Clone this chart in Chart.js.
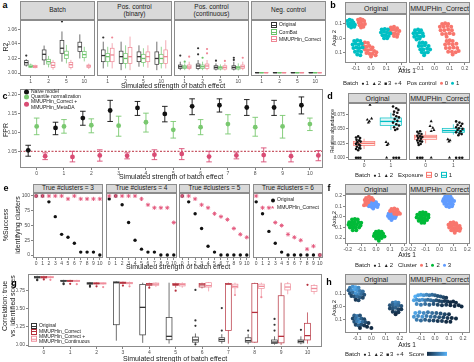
<!DOCTYPE html>
<html><head><meta charset="utf-8">
<script src="https://cdn.jsdelivr.net/npm/chart.js@4.4.1/dist/chart.umd.min.js"></script>
<style>
html,body{margin:0;padding:0;background:#fff;}
#fig{position:relative;width:474px;height:362px;overflow:hidden;font-family:'Liberation Sans',Arial,sans-serif;color:#1a1a1a;}
#fig canvas{position:absolute;}
.lab{position:absolute;white-space:nowrap;line-height:1.05;display:flex;align-items:center;}
.strip{position:absolute;box-sizing:border-box;background:#d9d9d9;border:1px solid #8c8c8c;display:flex;align-items:center;justify-content:center;text-align:center;line-height:1;color:#1a1a1a;}
.key{display:inline-block;flex:none;}
.sym{font-size:5px;margin:0 1px 0 3px;}
</style></head><body><div id="fig"></div>
<script>
// ---------------- data ----------------
// a: R2 per variable, boxes as [lo, q1, median, q3, hi]
const aStrength = ['1', '2', '5', '10'];
const aFacets = ['Batch', 'Pos. control<br>(binary)', 'Pos. control<br>(continuous)', 'Neg. control'];
const aMethods = ['Original', 'ComBat', 'MMUPHin_Correct'];
const aBatchOrig = [[.009,.011,.0143,.017,.019],[.011,.018,.0257,.0317,.0377],[.0156,.0271,.034,.0446,.057],[.020,.0294,.0359,.0423,.053]];
const aBatchCombat = [[.007,.0078,.0092,.011,.013],[.0078,.0124,.0156,.0189,.0235],[.0133,.020,.0248,.030,.0386],[.016,.0211,.0253,.0294,.036]];
const aBatchMmu = [[.0065,.0074,.0087,.0106,.0115],[.0046,.0078,.0106,.0143,.018],[.005,.0078,.0115,.0143,.018],[.0055,.0078,.0097,.011,.013]];
const aBinOrig = [[.0064,.0156,.024,.0317,.043],[.004,.0133,.0225,.030,.043],[.0087,.0156,.0225,.029,.038],[.004,.012,.020,.029,.043]];
const aBinCombat = [[.0087,.0156,.0225,.027,.036],[.0064,.0133,.020,.027,.038],[.0087,.0147,.020,.0257,.034],[.0064,.0133,.020,.0257,.036]];
const aBinMmu = [[.0064,.0156,.0248,.034,.041],[.004,.0133,.0225,.035,.050],[.0073,.0156,.0225,.029,.038],[.0064,.0133,.0225,.0317,.045]];
const aContOrig = [[.004,.0064,.0087,.011,.0156],[.004,.0064,.0097,.0124,.0179],[.0036,.0055,.0078,.010,.0133],[.0036,.0055,.0078,.010,.0156]];
const aContCombat = [[.004,.0064,.0083,.010,.0133],[.004,.0064,.0087,.011,.0156],[.0036,.0055,.0073,.0087,.0119],[.0036,.0055,.0073,.0092,.0133]];
const aContMmu = [[.004,.0064,.0083,.011,.0156],[.004,.0064,.0097,.0124,.0179],[.0036,.0055,.0078,.010,.0133],[.004,.0064,.0087,.011,.0156]];
const aNegOrig = [[.0001,.0003,.0005,.0007,.001],[.0001,.0003,.0005,.0007,.001],[.0001,.0003,.0005,.0007,.001],[.0001,.0003,.0005,.0007,.001]];
const aNegCombat = [[.0001,.0003,.0004,.0006,.0009],[.0001,.0003,.0004,.0006,.0009],[.0001,.0003,.0004,.0006,.0009],[.0001,.0003,.0004,.0006,.0009]];
const aNegMmu = [[.0001,.0003,.0004,.0006,.0009],[.0001,.0003,.0004,.0006,.0009],[.0001,.0003,.0004,.0006,.0009],[.0001,.0003,.0004,.0006,.0009]];
// outliers: [category 1..4, method index, value]
const aBatchOut = [[1,0,.024],[3,0,.0708]];
const aBinOut = [[1,0,.0487],[1,2,.0487]];
const aContOut = [[1,0,.024],[2,0,.034],[2,0,.0257],[3,0,.017],[4,0,.021],[4,0,.018],[1,1,.0156],[2,1,.021],[1,2,.0225],[2,2,.033],[2,2,.027],[3,2,.0166],[4,2,.021]];
const aNegOut = [];

// c: FPR with intervals
const cStrength = [0,1,2,3,4,5,6,7,8,9,10];
const cMethods = ['Naive model', 'Quantile normalization', 'MMUPHin_Correct +<br>MMUPHin_MetaDA'];
const cNaive = [0.0527,0.112,0.138,0.158,0.165,0.149,0.169,0.172,0.166,0.166,0.172];
const cNaiveLo = [0.037,0.094,0.119,0.129,0.145,0.128,0.147,0.154,0.145,0.145,0.149];
const cNaiveHi = [0.066,0.127,0.156,0.185,0.182,0.169,0.189,0.189,0.187,0.185,0.194];
const cQuant = [0.116,0.116,0.119,0.118,0.127,0.107,0.114,0.122,0.114,0.116,0.122];
const cQuantLo = [0.094,0.098,0.099,0.090,0.101,0.085,0.094,0.096,0.090,0.085,0.105];
const cQuantHi = [0.138,0.134,0.136,0.143,0.151,0.129,0.134,0.147,0.140,0.145,0.138];
const cMeta = [0.037,0.035,0.039,0.038,0.041,0.043,0.036,0.039,0.040,0.037,0.039];
const cMetaLo = [0.028,0.022,0.024,0.030,0.028,0.028,0.022,0.030,0.022,0.022,0.025];
const cMetaHi = [0.046,0.050,0.054,0.046,0.054,0.057,0.050,0.048,0.059,0.050,0.052];
const cNominal = 0.05;

// e: % success identifying clusters
const eClusters = [3, 4, 5, 6];
const eStrength = [0,1,2,3,4,5,6,7,8,9,10];
const eOriginal = [[100,100,90,65,35,30,20,5,5,5,0],[95,100,85,55,25,10,5,5,0,0,0],[100,90,70,45,15,5,0,0,0,0,0],[90,70,40,20,5,0,0,0,0,0,0]];
const eCorrected = [[100,100,100,100,100,95,100,95,95,95,95],[100,100,100,100,100,95,85,80,80,80,55],[100,100,95,85,80,70,65,60,45,35,30],[100,80,80,55,50,35,30,25,10,15,0]];

// g: correlation true vs identified scores, boxes [lo, q1, median, q3, hi]
const gStrength = [0,1,2,3,4,5,6,7,8,9,10];
const gOrig = [[.91,.925,.935,.945,.955],[.865,.875,.885,.893,.90],[.83,.84,.85,.86,.87],[.06,.28,.86,.872,.88],[.03,.14,.52,.837,.86],[.02,.073,.12,.38,.86],[.02,.04,.07,.11,.16],[.02,.05,.075,.10,.15],[.01,.04,.06,.10,.15],[.005,.02,.04,.07,.12],[.01,.03,.05,.07,.12]];
const gCorrect = [[.915,.925,.935,.945,.955],[.87,.877,.885,.893,.90],[.835,.842,.85,.858,.865],[.84,.85,.86,.868,.875],[.80,.82,.84,.85,.86],[.79,.82,.835,.85,.86],[.78,.80,.83,.85,.86],[.02,.20,.84,.85,.86],[.03,.04,.45,.85,.86],[.0,.03,.12,.68,.86],[.02,.07,.13,.30,.45]];
const gContinuous = [[.92,.928,.935,.945,.955],[.87,.877,.885,.893,.90],[.835,.842,.85,.858,.865],[.83,.845,.855,.865,.875],[.80,.825,.84,.855,.865],[.79,.815,.835,.85,.865],[.74,.80,.82,.86,.87],[.70,.79,.81,.84,.86],[.66,.78,.81,.84,.86],[.70,.76,.80,.845,.87],[.70,.74,.78,.82,.84]];
// outliers [strength, method index, value]
const gOut = [[0,0,.895],[0,0,.90],[1,0,.84],[1,0,.85],[2,0,.805],[2,0,.82],[6,0,.76],[6,0,.34],[6,0,.265],[6,0,.01],[7,0,.51],[7,0,.20],[8,0,.20],[9,0,.36],[9,0,.28],[9,0,.20],[10,0,.21],
  [0,1,.905],[1,1,.845],[2,1,.81],[3,1,.82],[4,1,.79],[5,1,.75],[10,1,.83],[0,2,.90],[1,2,.84],[2,2,.80],[3,2,.81],[7,2,.69],[8,2,.66]];

// b: ordination, points [axis1, axis2]
const bOrigTeal = [[-0.155,0.12],[-0.14,0.13],[-0.125,0.125],[-0.15,0.10],[-0.135,0.105],[-0.115,0.11],[-0.145,0.085],[-0.125,0.09],[-0.105,0.095],[-0.13,0.075],[-0.11,0.08],
  [0.07,0.06],[0.09,0.065],[0.11,0.06],[0.065,0.04],[0.085,0.045],[0.105,0.04],[0.125,0.035],[0.075,0.02],[0.095,0.02],[0.115,0.015],[0.085,0.0],[0.105,0.0],
  [-0.11,-0.02],[-0.09,-0.015],[-0.07,-0.02],[-0.12,-0.045],[-0.1,-0.04],[-0.08,-0.045],[-0.06,-0.04],[-0.115,-0.07],[-0.095,-0.065],[-0.075,-0.07],[-0.055,-0.065],[-0.105,-0.095],[-0.085,-0.09],[-0.065,-0.095],[-0.09,-0.115],[-0.07,-0.12]];
const bOrigSalmon = [[-0.085,0.13],[-0.07,0.135],[-0.055,0.13],[-0.08,0.11],[-0.065,0.115],[-0.045,0.12],[-0.075,0.09],[-0.06,0.095],[-0.04,0.10],[-0.065,0.075],[-0.05,0.08],
  [0.13,0.075],[0.15,0.08],[0.17,0.07],[0.125,0.055],[0.145,0.06],[0.165,0.055],[0.185,0.05],[0.135,0.035],[0.155,0.035],[0.175,0.03],[0.15,0.015],[0.17,0.01],
  [-0.04,-0.03],[-0.02,-0.035],[-0.05,-0.055],[-0.03,-0.06],[-0.01,-0.055],[0.01,-0.065],[-0.04,-0.08],[-0.02,-0.085],[0.0,-0.08],[0.02,-0.09],[0.035,-0.1],[-0.03,-0.105],[-0.01,-0.11],[0.01,-0.11],[0.03,-0.12],[0.0,-0.13]];
const bCorrTeal = [[-0.13,0.055],[-0.11,0.06],[-0.09,0.055],[-0.14,0.035],[-0.12,0.035],[-0.1,0.04],[-0.08,0.035],[-0.135,0.01],[-0.115,0.015],[-0.095,0.01],[-0.075,0.015],[-0.12,-0.01],[-0.1,-0.005],
  [-0.1,-0.035],[-0.08,-0.03],[-0.06,-0.035],[-0.105,-0.055],[-0.085,-0.055],[-0.065,-0.05],[-0.04,-0.055],[-0.095,-0.08],[-0.075,-0.08],[-0.05,-0.075],[-0.03,-0.08],[-0.085,-0.1],[-0.065,-0.105],[-0.045,-0.1],[-0.07,-0.12]];
const bCorrSalmon = [[0.05,0.1],[0.07,0.105],[0.09,0.1],[0.035,0.08],[0.06,0.08],[0.085,0.085],[0.11,0.08],[0.04,0.055],[0.065,0.055],[0.09,0.06],[0.115,0.055],[0.05,0.03],[0.075,0.03],[0.1,0.035],[0.125,0.03],[0.08,0.01],
  [0.08,-0.02],[0.1,-0.015],[0.12,-0.02],[0.07,-0.045],[0.095,-0.04],[0.12,-0.045],[0.145,-0.04],[0.075,-0.07],[0.1,-0.07],[0.125,-0.065],[0.15,-0.07],[0.09,-0.095],[0.115,-0.095],[0.14,-0.1],[0.16,-0.09],[0.12,-0.115]];

// d: relative abundance by exposure, boxes and jittered samples [exposure + jitter, abundance]
const dExposure = ['0', '1'];
const dOrigBox = [[0.015,0.021,0.025,0.028,0.033],[0.048,0.056,0.063,0.069,0.078]];
const dCorrBox = [[0.025,0.032,0.036,0.039,0.046],[0.040,0.044,0.047,0.051,0.058]];
const dOrigBatch1 = [[-0.3,0.035],[-0.22,0.037],[-0.15,0.034],[-0.28,0.031],[-0.18,0.03],[-0.25,0.027],[-0.13,0.028],[-0.3,0.024],[-0.2,0.023],[-0.15,0.021],[-0.27,0.019],[-0.18,0.017],[-0.3,0.015],[-0.22,0.013],[-0.14,0.016],[-0.3,0],[-0.22,0],[-0.14,0],
  [1.08,0.089],[1.2,0.086],[1.28,0.083],[1.12,0.08],[1.24,0.078],[1.1,0.075],[1.2,0.072],[1.3,0.07],[1.14,0.067],[1.24,0.064],[1.08,0.061],[1.2,0.058],[1.3,0.056],[1.12,0.053],[1.24,0.05],[1.16,0.048],[1.1,0],[1.2,0],[1.3,0]];
const dOrigBatch2 = [[0.12,0.066],[0.2,0.063],[0.28,0.068],[0.16,0.061],[0.22,0.092],[0.82,0.027],[0.9,0.024],[0.86,0.022],[0.84,0.0]];
const dCorrBatch1 = [[-0.3,0.045],[-0.2,0.046],[-0.25,0.042],[-0.15,0.041],[-0.3,0.038],[-0.2,0.037],[-0.12,0.036],[-0.27,0.034],[-0.17,0.033],[-0.3,0.03],[-0.2,0.029],[-0.13,0.028],[-0.27,0.026],[-0.18,0.024],[-0.25,0.022],[-0.3,0],[-0.2,0],[-0.12,0],
  [1.1,0.063],[1.22,0.061],[1.32,0.059],[1.15,0.057],[1.27,0.055],[1.1,0.053],[1.2,0.051],[1.33,0.05],[1.15,0.048],[1.26,0.046],[1.1,0.044],[1.22,0.042],[1.3,0.041],[1.18,0.039],[1.1,0],[1.22,0],[1.32,0]];
const dCorrBatch2 = [[0.2,0.063],[0.16,0.055],[0.26,0.052],[0.3,0.048],[0.2,0.046],[0.8,0.032],[0.88,0.03],[0.84,0.028],[0.2,0.0],[0.86,0.0]];

// f: ordination coloured by cluster
const fOrigC1 = [[-0.07,0.18],[-0.05,0.19],[-0.03,0.18],[-0.08,0.16],[-0.06,0.16],[-0.04,0.165],[-0.02,0.16],[-0.075,0.135],[-0.055,0.14],[-0.085,0.11],[-0.07,0.115],
  [0.11,0.075],[0.13,0.08],[0.15,0.07],[0.1,0.055],[0.12,0.055],[0.14,0.05],[0.16,0.045],[0.13,0.03],[0.15,0.025],[0.17,0.03]];
const fOrigC2 = [[-0.17,-0.025],[-0.15,-0.02],[-0.13,-0.025],[-0.19,-0.05],[-0.17,-0.05],[-0.15,-0.045],[-0.125,-0.05],[-0.105,-0.055],[-0.195,-0.075],[-0.175,-0.075],[-0.155,-0.07],[-0.135,-0.075],[-0.11,-0.08],[-0.185,-0.1],[-0.165,-0.1],[-0.145,-0.1],[-0.12,-0.1],[-0.165,-0.125],[-0.14,-0.125],
  [0.0,-0.14],[0.02,-0.135],[0.04,-0.14],[-0.01,-0.16],[0.01,-0.16],[0.03,-0.155],[0.05,-0.16],[-0.015,-0.18],[0.005,-0.185],[0.025,-0.18],[0.045,-0.18],[0.06,-0.185],[0.0,-0.205],[0.02,-0.205],[0.04,-0.2],[0.02,-0.225]];
const fOrigC3 = [[-0.035,0.14],[-0.015,0.145],[0.0,0.14],[-0.045,0.12],[-0.025,0.12],[-0.005,0.12],[0.015,0.115],[-0.05,0.1],[-0.03,0.095],[-0.01,0.1],[0.01,0.095],[-0.02,0.08],
  [0.09,0.03],[0.105,0.035],[0.12,0.025],[0.085,0.01],[0.1,0.01],[0.12,0.005],[0.14,0.005],[0.095,-0.01],[0.115,-0.015],[0.135,-0.01],[0.11,-0.03]];
const fCorrC1 = [[0.08,-0.055],[0.1,-0.05],[0.12,-0.06],[0.065,-0.075],[0.085,-0.08],[0.105,-0.075],[0.125,-0.08],[0.145,-0.085],[0.07,-0.1],[0.09,-0.1],[0.11,-0.105],[0.13,-0.1],[0.15,-0.11],[0.085,-0.125],[0.105,-0.13],[0.125,-0.125],[0.145,-0.13],[0.11,-0.15]];
const fCorrC2 = [[-0.14,0.04],[-0.12,0.045],[-0.1,0.04],[-0.16,0.02],[-0.14,0.015],[-0.12,0.02],[-0.1,0.015],[-0.08,0.02],[-0.165,-0.005],[-0.145,-0.01],[-0.125,-0.005],[-0.105,-0.01],[-0.08,-0.005],[-0.15,-0.035],[-0.13,-0.03],[-0.11,-0.035],[-0.09,-0.03],[-0.13,-0.055],[-0.11,-0.055]];
const fCorrC3 = [[0.04,0.19],[0.06,0.195],[0.08,0.19],[0.03,0.17],[0.05,0.17],[0.07,0.175],[0.09,0.17],[0.025,0.15],[0.045,0.145],[0.065,0.15],[0.085,0.145],[0.105,0.15],[0.035,0.125],[0.055,0.12],[0.075,0.125],[0.095,0.12],[0.05,0.1],[0.07,0.095],[0.09,0.1]];

// h: ordination coloured by continuous score, points [axis1, axis2, score]
const hOrig = [[-0.15,0.15,0.6],[-0.13,0.16,0.8],[-0.11,0.155,0.9],[-0.09,0.15,0.7],[-0.16,0.13,0.4],[-0.14,0.13,0.7],[-0.12,0.135,0.9],[-0.1,0.13,0.8],[-0.08,0.125,0.6],[-0.06,0.12,0.5],[-0.15,0.105,0.3],[-0.13,0.11,0.5],[-0.11,0.105,0.8],[-0.09,0.1,0.7],[-0.07,0.1,0.5],[-0.05,0.095,0.3],[-0.14,0.085,0.2],[-0.12,0.08,0.3],[-0.1,0.08,0.5],[-0.08,0.075,0.4],[-0.06,0.07,0.2],[-0.11,0.055,0.1],[-0.09,0.05,0.2],
  [0.15,0.03,0.5],[0.17,0.035,0.7],[0.19,0.03,0.6],[0.13,0.01,0.3],[0.15,0.01,0.4],[0.17,0.015,0.6],[0.19,0.01,0.5],[0.21,0.005,0.3],[0.13,-0.015,0.2],[0.15,-0.015,0.3],[0.17,-0.01,0.4],[0.19,-0.02,0.2],[0.21,-0.02,0.1],[0.15,-0.04,0.1],[0.17,-0.045,0.2],[0.19,-0.045,0.1],[0.17,-0.06,0.0],
  [-0.12,-0.07,0.4],[-0.1,-0.075,0.6],[-0.08,-0.07,0.3],[-0.13,-0.095,0.2],[-0.11,-0.095,0.5],[-0.09,-0.1,0.7],[-0.07,-0.095,0.4],[-0.05,-0.1,0.2],[-0.12,-0.12,0.3],[-0.1,-0.12,0.6],[-0.08,-0.125,0.8],[-0.06,-0.12,0.5],[-0.04,-0.125,0.3],[-0.02,-0.13,0.1],[-0.11,-0.145,0.2],[-0.09,-0.15,0.4],[-0.07,-0.145,0.3],[-0.05,-0.15,0.1],[-0.08,-0.17,0.0],[-0.03,-0.16,0.0],[0.0,-0.17,0.0]];
const hCorr = [[-0.14,0.08,1.0],[-0.12,0.09,0.9],[-0.1,0.095,0.9],[-0.08,0.09,0.8],[-0.06,0.095,0.7],[-0.04,0.09,0.6],[-0.02,0.095,0.5],[0.0,0.09,0.4],[0.02,0.085,0.3],[0.04,0.08,0.3],[0.06,0.075,0.2],[0.08,0.07,0.1],
  [-0.15,0.05,0.9],[-0.13,0.055,0.8],[-0.11,0.05,0.7],[-0.09,0.055,0.8],[-0.07,0.05,0.6],[-0.05,0.055,0.5],[-0.03,0.05,0.5],[-0.01,0.045,0.4],[0.01,0.05,0.3],[0.03,0.045,0.2],[0.05,0.04,0.2],[0.07,0.045,0.1],[0.09,0.04,0.1],[0.11,0.035,0.0],[0.13,0.04,0.0],[0.15,0.03,0.0],
  [-0.13,0.02,0.7],[-0.1,0.015,0.6],[-0.07,0.02,0.5],[-0.04,0.015,0.4],[-0.01,0.02,0.3],[0.02,0.015,0.2],[0.05,0.01,0.1],[0.08,0.015,0.1],[0.11,0.01,0.0],[0.14,0.005,0.0],[0.17,0.01,0.0],[0.19,0.0,0.0],
  [-0.14,-0.05,0.9],[-0.11,-0.045,0.8],[-0.08,-0.05,0.7],[-0.05,-0.045,0.6],[-0.02,-0.05,0.5],[0.01,-0.05,0.4],[0.04,-0.055,0.3],[0.07,-0.06,0.2],[0.1,-0.06,0.1],
  [-0.15,-0.08,0.8],[-0.12,-0.075,0.7],[-0.09,-0.08,0.8],[-0.06,-0.075,0.6],[-0.03,-0.08,0.5],[0.0,-0.08,0.4],[0.03,-0.085,0.3],[0.06,-0.085,0.2],[0.09,-0.09,0.1],[0.12,-0.09,0.0],[0.15,-0.095,0.0],
  [-0.13,-0.105,0.6],[-0.1,-0.11,0.5],[-0.07,-0.105,0.4],[-0.04,-0.11,0.3],[-0.01,-0.11,0.2],[0.02,-0.115,0.1],[0.05,-0.115,0.1],[0.08,-0.12,0.0],[0.11,-0.12,0.0]];

// ---------------- styles ----------------
const aCol = ['#333333', '#6cc36a', '#ef8795'];
const cCol = ['#111111', '#79c86f', '#d94c74'];
const eCol = ['#111111', '#e3557a'];
const gCol = ['#333333', '#b52f3c', '#ef8d9b'];
const hue2 = ['#F8766D', '#00BFC4'];
const hue3 = ['#F8766D', '#00BA38', '#619CFF'];
const DODGE = [-0.25, 0, 0.25];
const PAD = 8;
const fig = document.getElementById('fig');

Chart.defaults.font.family = "'Liberation Sans', Arial, sans-serif";
Chart.defaults.font.size = 5;
Chart.defaults.color = '#4d4d4d';

function axis(s, dir, size, show) {
  return {
    type: 'linear', min: s.min, max: s.max, display: show,
    afterBuildTicks: sc => { sc.ticks = s.ticks.map(v => ({ value: v })); },
    afterFit: sc => { if (dir === 'x') sc.height = size; else sc.width = size; },
    grid: { drawOnChartArea: false, drawTicks: true, tickLength: 2, color: '#333', lineWidth: 0.6 },
    border: { display: false },
    ticks: { callback: (v, i) => s.labels[i], padding: 1, autoSkip: false, maxRotation: 0, font: { size: s.fs || 5 }, color: '#4d4d4d' }
  };
}

function framePlugin() {
  return { id: 'frame', afterDraw(ch) {
    const a = ch.chartArea, c = ch.ctx;
    c.save(); c.strokeStyle = '#8c8c8c'; c.lineWidth = 1;
    c.strokeRect(Math.round(a.left) + 0.5, Math.round(a.top) + 0.5, Math.round(a.right - a.left) - 1, Math.round(a.bottom - a.top) - 1);
    c.restore();
  } };
}

function boxPlugin(items) {
  return { id: 'boxes', beforeDatasetsDraw(ch) {
    const { ctx, scales: { x, y } } = ch;
    items.forEach(it => {
      const [lo, q1, md, q3, hi] = it.s;
      const xc = x.getPixelForValue(it.x);
      const hw = Math.abs(x.getPixelForValue(it.x + it.w / 2) - xc);
      const top = y.getPixelForValue(q3), bot = y.getPixelForValue(q1);
      ctx.save(); ctx.strokeStyle = it.color; ctx.lineWidth = 0.7;
      ctx.beginPath();
      ctx.moveTo(xc, y.getPixelForValue(hi)); ctx.lineTo(xc, top);
      ctx.moveTo(xc, bot); ctx.lineTo(xc, y.getPixelForValue(lo));
      ctx.stroke();
      if (it.fill) { ctx.fillStyle = it.fill; ctx.fillRect(xc - hw, top, 2 * hw, bot - top); }
      ctx.strokeRect(xc - hw, top, 2 * hw, bot - top);
      ctx.lineWidth = 1.3;
      ctx.beginPath(); ctx.moveTo(xc - hw, y.getPixelForValue(md)); ctx.lineTo(xc + hw, y.getPixelForValue(md)); ctx.stroke();
      ctx.restore();
    });
  } };
}

function errPlugin(items) {
  return { id: 'errbars', beforeDatasetsDraw(ch) {
    const { ctx, scales: { x, y } } = ch;
    items.forEach(it => {
      const xc = x.getPixelForValue(it.x), cw = 2.8;
      const yl = y.getPixelForValue(it.lo), yh = y.getPixelForValue(it.hi);
      ctx.save(); ctx.strokeStyle = it.color; ctx.lineWidth = 0.9;
      ctx.beginPath();
      ctx.moveTo(xc, yl); ctx.lineTo(xc, yh);
      ctx.moveTo(xc - cw, yl); ctx.lineTo(xc + cw, yl);
      ctx.moveTo(xc - cw, yh); ctx.lineTo(xc + cw, yh);
      ctx.stroke(); ctx.restore();
    });
  } };
}

function hlinePlugin(v) {
  return { id: 'hline', beforeDatasetsDraw(ch) {
    const { ctx, chartArea: a, scales: { y } } = ch;
    const py = y.getPixelForValue(v);
    ctx.save(); ctx.strokeStyle = '#b2182b'; ctx.lineWidth = 0.9; ctx.setLineDash([2, 1.5]);
    ctx.beginPath(); ctx.moveTo(a.left, py); ctx.lineTo(a.right, py); ctx.stroke(); ctx.restore();
  } };
}

function facet(area, cfg) {
  const [l, t, r, b] = area;
  const yW = cfg.showY ? cfg.yW : 0;
  const xH = cfg.xH || 8;
  const w = r - l + yW + 2 * PAD, h = b - t + xH + PAD;
  const cv = document.createElement('canvas');
  cv.width = w; cv.height = h;
  cv.style.left = (l - yW - PAD) + 'px'; cv.style.top = (t - PAD) + 'px';
  cv.style.width = w + 'px'; cv.style.height = h + 'px';
  fig.appendChild(cv);
  const extra = [];
  if (cfg.hline !== undefined) extra.push(hlinePlugin(cfg.hline));
  if (cfg.boxes) extra.push(boxPlugin(cfg.boxes));
  if (cfg.errbars) extra.push(errPlugin(cfg.errbars));
  extra.push(framePlugin());
  return new Chart(cv, {
    type: 'scatter',
    data: { datasets: cfg.datasets || [] },
    options: {
      responsive: false, animation: false, devicePixelRatio: 1,
      layout: { padding: { top: PAD, right: PAD, bottom: 0, left: PAD } },
      scales: { x: axis(cfg.x, 'x', xH, true), y: axis(cfg.y, 'y', yW, !!cfg.showY) },
      plugins: { legend: { display: false }, tooltip: { enabled: false } }
    },
    plugins: extra
  });
}

function pts(arr, color, r, style) {
  return { data: arr.map(p => ({ x: p[0], y: p[1] })), backgroundColor: color, borderColor: color,
    pointRadius: r || 2, borderWidth: style === 'star' ? 0.9 : 0, pointStyle: style || 'circle' };
}

function lab(html, x, y, o = {}) {
  const d = document.createElement('div');
  d.className = 'lab';
  d.innerHTML = html;
  const ax = o.a === 'l' ? '0' : o.a === 'r' ? '-100%' : '-50%';
  d.style.cssText = `left:${x}px;top:${y}px;font-size:${o.fs || 6}px;transform:translate(${ax},-50%)${o.rot ? ' rotate(-90deg)' : ''};` + (o.css || '');
  fig.appendChild(d);
}

function strip(l, t, r, b, html, fs) {
  const d = document.createElement('div');
  d.className = 'strip';
  d.innerHTML = html;
  d.style.cssText = `left:${l}px;top:${t}px;width:${r - l}px;height:${b - t}px;font-size:${fs}px;`;
  fig.appendChild(d);
}

const boxKey = c => `<span class="key" style="width:4px;height:4px;border:1px solid ${c};background:linear-gradient(${c},${c}) center/100% 1px no-repeat;margin-right:2px"></span>`;
const dotKey = (c, s) => `<span class="key" style="width:${s || 4}px;height:${s || 4}px;border-radius:50%;background:${c};margin-right:2px"></span>`;

// ---------------- a ----------------
const aX = { min: 0.4, max: 4.6, ticks: [1, 2, 3, 4], labels: aStrength };
const aY = { min: -0.004, max: 0.0727, ticks: [0, 0.02, 0.04, 0.06], labels: ['0.00', '0.02', '0.04', '0.06'] };
const aAreas = [[20, 20, 95, 76], [97, 20, 172, 76], [174, 20, 249, 76], [251, 20, 326, 76]];
[[aBatchOrig, aBatchCombat, aBatchMmu, aBatchOut], [aBinOrig, aBinCombat, aBinMmu, aBinOut],
 [aContOrig, aContCombat, aContMmu, aContOut], [aNegOrig, aNegCombat, aNegMmu, aNegOut]].forEach((f, i) => {
  const boxes = [];
  for (let m = 0; m < 3; m++) f[m].forEach((s, k) => boxes.push({ x: k + 1 + DODGE[m], w: 0.21, s, color: aCol[m] }));
  const ds = [0, 1, 2].map(m => pts(f[3].filter(o => o[1] === m).map(o => [o[0] + DODGE[m], o[2]]), aCol[m], 1.1));
  facet(aAreas[i], { showY: i === 0, yW: 12, x: aX, y: aY, datasets: ds, boxes });
  strip(aAreas[i][0], 1, aAreas[i][2], 20, aFacets[i], 6.5);
});

// ---------------- c ----------------
const cX = { min: -0.61, max: 10.48, ticks: cStrength, labels: cStrength.map(String) };
const cY = { min: 0.0058, max: 0.215, ticks: [0.05, 0.10, 0.15, 0.20], labels: ['0.05', '0.10', '0.15', '0.20'] };
const cSeries = [[cNaive, cNaiveLo, cNaiveHi], [cQuant, cQuantLo, cQuantHi], [cMeta, cMetaLo, cMetaHi]];
const cOff = [-0.31, 0, 0.31];
const cErr = [];
cSeries.forEach((s, m) => cStrength.forEach((x, k) => cErr.push({ x: x + cOff[m], lo: s[1][k], hi: s[2][k], color: cCol[m] })));
facet([20, 89, 323, 168], { showY: true, yW: 12, x: cX, y: cY, hline: cNominal, errbars: cErr,
  datasets: cSeries.map((s, m) => pts(cStrength.map((x, k) => [x + cOff[m], s[0][k]]), cCol[m], 2.4)) });

// ---------------- e ----------------
const eX = { min: -0.5, max: 10.5, ticks: eStrength, labels: eStrength.map(String) };
const eY = { min: -5, max: 105, ticks: [0, 25, 50, 75, 100], labels: ['0', '25', '50', '75', '100'] };
const eAreas = [[33, 193, 103, 258], [106, 193, 177, 258], [179, 193, 250, 258], [253, 193, 323, 258]];
eClusters.forEach((k, i) => {
  facet(eAreas[i], { showY: i === 0, yW: 12, x: eX, y: eY, datasets: [
    pts(eStrength.map((x, j) => [x, eCorrected[i][j]]), eCol[1], 2.1, 'star'),
    pts(eStrength.map((x, j) => [x, eOriginal[i][j]]), eCol[0], 1.7)] });
  strip(eAreas[i][0], 184, eAreas[i][2], 193, 'True #clusters = ' + k, 6.5);
});

// ---------------- g ----------------
const gX = { min: -0.6, max: 10.55, ticks: gStrength, labels: gStrength.map(String) };
const gY = { min: -0.027, max: 0.98, ticks: [0, 0.25, 0.5, 0.75], labels: ['0.00', '0.25', '0.50', '0.75'] };
const gBoxes = [];
[gOrig, gCorrect, gContinuous].forEach((ser, m) => ser.forEach((s, k) => gBoxes.push({ x: gStrength[k] + DODGE[m], w: 0.22, s, color: gCol[m] })));
facet([28, 274, 322, 347], { showY: true, yW: 12, x: gX, y: gY, boxes: gBoxes,
  datasets: [0, 1, 2].map(m => pts(gOut.filter(o => o[1] === m).map(o => [o[0] + DODGE[m], o[2]]), gCol[m], 1.1)) });

// ---------------- right column ----------------
const bX = { min: -0.17, max: 0.235, ticks: [-0.1, 0, 0.1, 0.2], labels: ['-0.1', '0.0', '0.1', '0.2'] };
const bY = { min: -0.175, max: 0.17, ticks: [-0.1, 0, 0.1], labels: ['-0.1', '0.0', '0.1'] };
const rNames = ['Original', 'MMUPHin_Correct'];
const bAreas = [[345, 14, 407, 63], [409, 14, 470, 63]];
[[bOrigTeal, bOrigSalmon], [bCorrTeal, bCorrSalmon]].forEach((f, i) => {
  facet(bAreas[i], { showY: i === 0, yW: 10, x: bX, y: bY, datasets: [pts(f[0], hue2[1], 2), pts(f[1], hue2[0], 2)] });
  strip(bAreas[i][0], 2, bAreas[i][2], 14, rNames[i], 7);
});

const dX = { min: -0.6, max: 1.6, ticks: [0, 1], labels: dExposure };
const dY = { min: -0.004, max: 0.095, ticks: [0, 0.025, 0.05, 0.075], labels: ['0.000', '0.025', '0.050', '0.075'], fs: 4.5 };
const dAreas = [[348, 103, 407, 160], [409, 103, 470, 160]];
[[dOrigBox, dOrigBatch1, dOrigBatch2], [dCorrBox, dCorrBatch1, dCorrBatch2]].forEach((f, i) => {
  const boxes = f[0].map((s, k) => ({ x: k, w: 0.8, s, color: hue2[k], fill: k ? 'rgba(0,191,196,0.12)' : 'rgba(248,118,109,0.12)' }));
  facet(dAreas[i], { showY: i === 0, yW: 14, x: dX, y: dY, boxes,
    datasets: [pts(f[1], '#111', 1.3), pts(f[2], '#111', 1.8, 'triangle')] });
  strip(dAreas[i][0], 93, dAreas[i][2], 103, rNames[i], 7);
});

const fX = { min: -0.22, max: 0.22, ticks: [-0.2, -0.1, 0, 0.1, 0.2], labels: ['-0.2', '-0.1', '0.0', '0.1', '0.2'] };
const fY = { min: -0.256, max: 0.217, ticks: [-0.2, -0.1, 0, 0.1, 0.2], labels: ['-0.2', '-0.1', '0.0', '0.1', '0.2'] };
const fAreas = [[345, 194, 407, 244], [409, 194, 470, 244]];
[[fOrigC1, fOrigC2, fOrigC3], [fCorrC1, fCorrC2, fCorrC3]].forEach((f, i) => {
  facet(fAreas[i], { showY: i === 0, yW: 10, x: fX, y: fY, datasets: f.map((a, k) => pts(a, hue3[k], 2)) });
  strip(fAreas[i][0], 184, fAreas[i][2], 194, rNames[i], 7);
});

const scoreLo = [19, 43, 67], scoreHi = [86, 177, 247];
const scoreColor = s => 'rgb(' + scoreLo.map((c, j) => Math.round(c + (scoreHi[j] - c) * s)).join(',') + ')';
const hX = { min: -0.185, max: 0.25, ticks: [-0.1, 0, 0.1, 0.2], labels: ['-0.1', '0.0', '0.1', '0.2'] };
const hY = { min: -0.21, max: 0.18, ticks: [-0.1, 0, 0.1], labels: ['-0.1', '0.0', '0.1'] };
const hAreas = [[345, 284, 407, 333], [409, 284, 470, 333]];
[hOrig, hCorr].forEach((f, i) => {
  const ds = pts(f, '#000', 2);
  ds.backgroundColor = f.map(p => scoreColor(p[2]));
  facet(hAreas[i], { showY: i === 0, yW: 10, x: hX, y: hY, datasets: [ds] });
  strip(hAreas[i][0], 274, hAreas[i][2], 284, rNames[i], 7);
});

// ---------------- text ----------------
[['a', 5, 6], ['b', 333, 6], ['c', 5, 97], ['d', 330, 97], ['e', 6, 189], ['f', 329, 189], ['g', 14, 284], ['h', 329, 283]]
  .forEach(p => lab(p[0], p[1], p[2], { fs: 9, css: 'font-weight:bold;color:#000;' }));

const xTitle = 'Simulated strength of batch effect';
lab(xTitle, 173, 86, { fs: 7 });
lab(xTitle, 171, 176.5, { fs: 7 });
lab(xTitle, 178, 266.5, { fs: 7 });
lab(xTitle, 175, 359, { fs: 7 });
lab('R2', 6, 47, { fs: 7, rot: 1 });
lab('FPR', 6, 130, { fs: 7, rot: 1 });
lab('%Success', 6, 225, { fs: 7, rot: 1 });
lab('identifying clusters', 18, 225, { fs: 7, rot: 1 });
lab('Correlation: true', 5, 306, { fs: 7, rot: 1 });
lab('vs. identified scores', 13, 306, { fs: 7, rot: 1 });
lab('Axis 2', 334, 38, { fs: 6, rot: 1 });
lab('Relative abundance', 333, 131, { fs: 5, rot: 1 });
lab('Axis 2', 334, 219, { fs: 6, rot: 1 });
lab('Axis 2', 334, 308, { fs: 6, rot: 1 });
lab('Axis 1', 407, 71, { fs: 6.5 });
lab('Axis 1', 407, 255, { fs: 6.5 });
lab('Axis 1', 407, 345, { fs: 6.5 });

// legends
aMethods.forEach((m, k) => lab(boxKey(aCol[k]) + m, 271, 25 + k * 7.2, { a: 'l', fs: 5 }));
cMethods.forEach((m, k) => lab(dotKey(cCol[k], 5) + '<span>' + m + '</span>', 24, [92, 97, 104.3][k], { a: 'l', fs: 5 }));
lab(dotKey(eCol[0], 4) + 'Original', 271, 200, { a: 'l', fs: 5 });
lab(`<span style="color:${eCol[1]};font-weight:bold;font-size:8px;width:6px;line-height:5px;margin-top:3px">*</span>MMUPHin_Correct`, 271, 207.3, { a: 'l', fs: 5 });
['Original', 'MMUPHin_Correct', 'MMUPHin_Correct +<br>MMUPHin_Continuous'].forEach((m, k) =>
  lab(boxKey(gCol[k]) + '<span>' + m + '</span>', 31, [326, 331.7, 338.8][k], { a: 'l', fs: 5 }));

const shp = ['●', '▲', '■', '+'];
const batchKeys = n => 'Batch' + shp.slice(0, n).map((s, k) => `<span class="sym">${s}</span>${k + 1}`).join('');
lab(batchKeys(4) + '<span style="margin-left:5px">Pos control</span>' +
  hue2.map((c, k) => `<span style="margin-left:3px"></span>${dotKey(c, 3)}${k}`).join(''), 343, 83, { a: 'l', fs: 6 });
lab(batchKeys(2) + '<span style="margin-left:5px">Exposure</span>' +
  hue2.map((c, k) => `<span style="margin-left:3px"></span>${boxKey(c)}${k}`).join(''), 355, 175.3, { a: 'l', fs: 6 });
lab(batchKeys(2) + '<span style="margin-left:5px">Cluster</span>' +
  hue3.map((c, k) => `<span style="margin-left:3px"></span>${dotKey(c, 3)}${k + 1}`).join(''), 355, 265, { a: 'l', fs: 6 });
lab(batchKeys(4) + '<span style="margin-left:5px">Score</span><span class="key" style="margin-left:3px;width:20px;height:4px;background:linear-gradient(90deg,#132B43,#56B1F7)"></span>', 345, 354, { a: 'l', fs: 6 });
</script></body></html>
